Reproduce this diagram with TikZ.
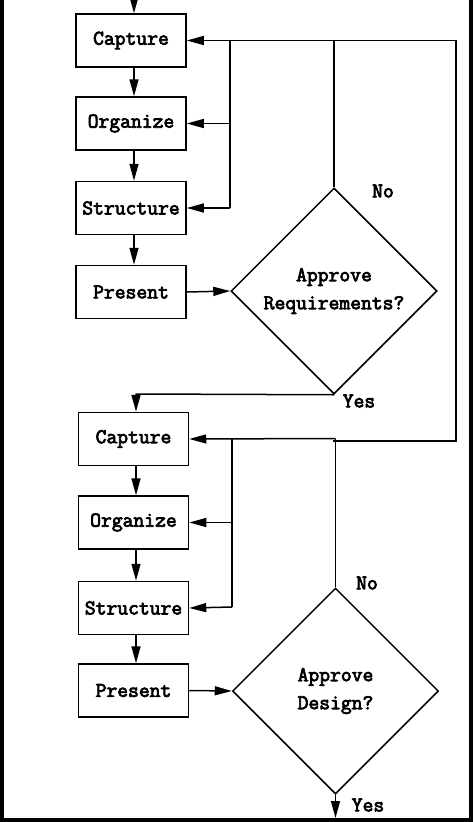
\documentclass[tikz,border=0pt]{standalone}
\usepackage{fontspec}
\newfontfamily\cfont{Latin Modern Mono}[FakeBold=3.5]
\usetikzlibrary{shapes.geometric,arrows.meta}
\begin{document}
\begin{tikzpicture}[x=1pt,y=-1pt,
  txt/.style={font=\cfont\fontsize{21}{28}\selectfont},
  box/.style={txt,draw,line width=1.5pt,minimum width=110pt,minimum height=53pt,inner sep=0pt},
  dec/.style={txt,draw,diamond,aspect=1,line width=1.5pt,minimum width=206pt,minimum height=206pt,inner sep=0pt,align=center},
  conn/.style={line width=1.5pt},
  arr/.style={conn,-{Triangle[length=17pt,width=9pt]}},
  lbl/.style={txt,inner sep=0pt}]
\useasboundingbox (0,0) rectangle (474,822);
\fill[white] (0,0) rectangle (474,822);

% first cycle
\node[box] (cap1) at (131,40.5) {Capture};
\node[box] (org1) at (131,123.5) {Organize};
\node[box] (str1) at (131,208) {Structure};
\node[box] (pre1) at (131,292) {Present};
\node[dec] (dia1) at (334,291) {Approve\\Requirements?};

% second cycle
\node[box] (cap2) at (133.5,439) {Capture};
\node[box] (org2) at (133.5,522.5) {Organize};
\node[box] (str2) at (133.5,608) {Structure};
\node[box] (pre2) at (133.5,690.5) {Present};
\node[dec] (dia2) at (335.5,691) {Approve\\Design?};

% labels
\node[lbl] (no1) at (383,191) {No};
\node[lbl] (yes1) at (359,401) {Yes};
\node[lbl] (no2) at (367,583) {No};
\node[lbl] (yes2) at (368,805) {Yes};

% coordinates
\coordinate (top) at (134,0);
\coordinate (j1) at (334,40.5);
\coordinate (b1t) at (230,40.5);
\coordinate (b1b) at (230,208);
\coordinate (r1) at (456,40.5);
\coordinate (r2) at (456,441);
\coordinate (r3) at (333,441);
\coordinate (y1) at (136,394);
\coordinate (j2) at (335.5,438.5);
\coordinate (b2t) at (232,438.5);
\coordinate (b2b) at (232,607);
\coordinate (endp) at (335.5,818);

% first cycle connectors
\draw[arr] (top) -- ([xshift=3pt]cap1.north);
\draw[arr] ([xshift=3pt]cap1.south) -- ([xshift=3pt]org1.north);
\draw[arr] ([xshift=3pt]org1.south) -- ([xshift=3pt]str1.north);
\draw[arr] ([xshift=3pt]str1.south) -- ([xshift=3pt]pre1.north);
\draw[arr] (pre1.east) -- (dia1.west);
\draw[conn] (dia1.north) -- (j1);
\draw[arr] (j1) -- (cap1.east);
\draw[conn] (b1t) -- (b1b);
\draw[arr] (b1t |- org1.east) -- (org1.east);
\draw[arr] (b1b) -- (str1.east);
\draw[conn] (j1) -- (r1) -- (r2) -- (r3);
\draw[arr] (dia1.south) -- (y1) -- ([xshift=2.5pt]cap2.north);

% second cycle connectors
\draw[arr] ([xshift=2.5pt]cap2.south) -- ([xshift=2.5pt]org2.north);
\draw[arr] ([xshift=2.5pt]org2.south) -- ([xshift=2.5pt]str2.north);
\draw[arr] ([xshift=2.5pt]str2.south) -- ([xshift=2.5pt]pre2.north);
\draw[arr] (pre2.east) -- (dia2.west);
\draw[conn] (dia2.north) -- (j2);
\draw[arr] (j2) -- (cap2.east);
\draw[conn] (b2t) -- (b2b);
\draw[arr] (b2t |- org2.east) -- (org2.east);
\draw[arr] (b2b) -- (str2.east);
\draw[arr] (dia2.south) -- (endp);

% frame
\draw[line width=4pt] (2,0) -- (2,820) -- (471,820) -- (471,0);
\end{tikzpicture}
\end{document}
